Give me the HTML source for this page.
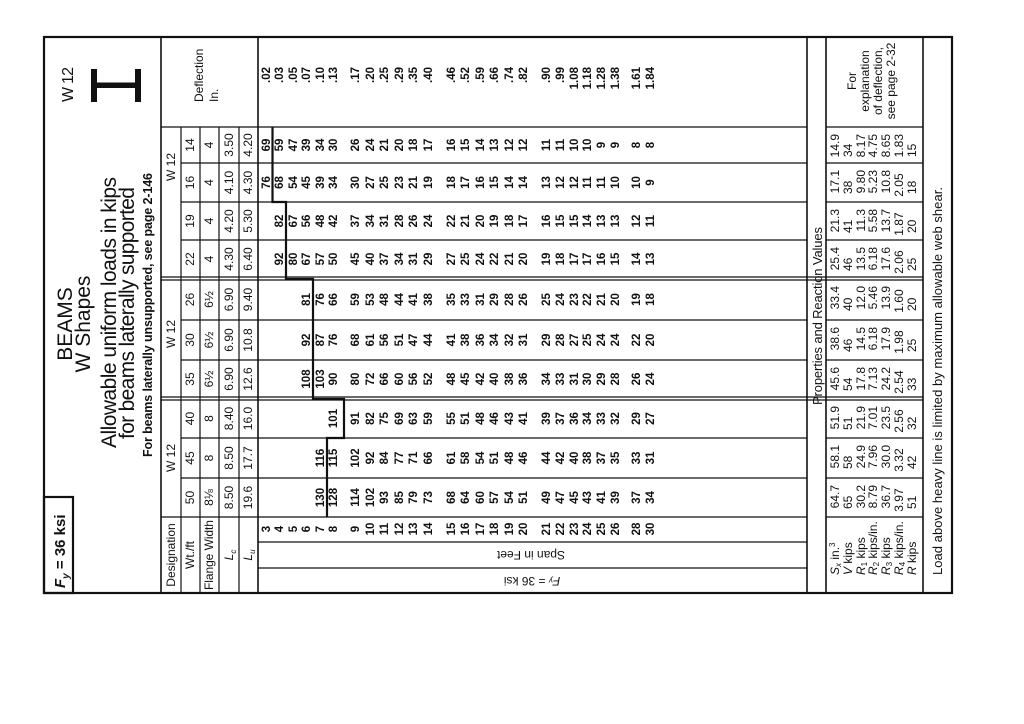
<!DOCTYPE html>
<html><head><meta charset="utf-8"><style>
html,body{margin:0;padding:0;background:#fff;width:1024px;height:724px;overflow:hidden}
svg{display:block}
text{font-family:"Liberation Sans",Arial,sans-serif;fill:#111}
.n{font-size:11.5px;font-weight:bold;text-anchor:middle}
.h{font-size:12px;text-anchor:middle}
.p{font-size:12px;text-anchor:end}
.pl{font-size:12px;text-anchor:start}
</style></head><body>
<svg width="1024" height="724" viewBox="0 0 1024 724" xmlns="http://www.w3.org/2000/svg">
<rect width="1024" height="724" fill="#fff"/>
<g transform="translate(0,724) rotate(-90)">
<rect x="131" y="44" width="556" height="908" fill="none" stroke="#111" stroke-width="2.2"/>
<rect x="131" y="44" width="96" height="29" fill="none" stroke="#111" stroke-width="2.2"/>
<text x="136" y="65" style="font-size:15px;font-weight:bold"><tspan font-style="italic">F</tspan><tspan font-size="10" dy="4" font-style="italic">y</tspan><tspan dy="-4"> = 36 ksi</tspan></text>
<text x="622" y="73" style="font-size:16px" textLength="35">W 12</text>
<rect x="622" y="91" width="33" height="6" fill="#111"/>
<rect x="622" y="135" width="33" height="6" fill="#111"/>
<rect x="636" y="91" width="5.5" height="50" fill="#111"/>
<text x="400" y="72" style="font-size:21px;text-anchor:middle">BEAMS</text>
<text x="400" y="90" style="font-size:21px;text-anchor:middle">W Shapes</text>
<text x="276" y="116" style="font-size:21px" textLength="271">Allowable uniform loads in kips</text>
<text x="285" y="134" style="font-size:21px" textLength="252">for beams laterally supported</text>
<text x="267" y="152" style="font-size:12.5px;font-weight:bold" textLength="284">For beams laterally unsupported, see page 2-146</text>

<g stroke="#111" stroke-width="1.2" fill="none">
<line x1="131" y1="161" x2="687" y2="161" stroke-width="1.6"/>
<line x1="131" y1="181" x2="597" y2="181"/>
<line x1="131" y1="200" x2="597" y2="200"/>
<line x1="131" y1="219" x2="597" y2="219"/>
<line x1="131" y1="239" x2="597" y2="239"/>
<line x1="131" y1="258" x2="687" y2="258" stroke-width="1.6"/>
<line x1="131" y1="807" x2="687" y2="807" stroke-width="1.6"/>
<line x1="131" y1="826" x2="687" y2="826" stroke-width="1.6"/>
<line x1="131" y1="923" x2="687" y2="923" stroke-width="1.6"/>
<line x1="207" y1="161" x2="207" y2="807"/>
<line x1="207" y1="826" x2="207" y2="923"/>
<line x1="597" y1="161" x2="597" y2="807"/>
<line x1="597" y1="826" x2="597" y2="923"/>
<line x1="324" y1="161" x2="324" y2="923"/>
<line x1="327" y1="161" x2="327" y2="923"/>
<line x1="444" y1="161" x2="444" y2="923"/>
<line x1="447" y1="161" x2="447" y2="923"/>
<line x1="156" y1="258" x2="156" y2="807"/>
<line x1="182" y1="258" x2="182" y2="807"/>
<line x1="246" y1="181" x2="246" y2="807"/><line x1="246" y1="826" x2="246" y2="923"/>
<line x1="286" y1="181" x2="286" y2="807"/><line x1="286" y1="826" x2="286" y2="923"/>
<line x1="364" y1="181" x2="364" y2="807"/><line x1="364" y1="826" x2="364" y2="923"/>
<line x1="404" y1="181" x2="404" y2="807"/><line x1="404" y1="826" x2="404" y2="923"/>
<line x1="484" y1="181" x2="484" y2="807"/><line x1="484" y1="826" x2="484" y2="923"/>
<line x1="522" y1="181" x2="522" y2="807"/><line x1="522" y1="826" x2="522" y2="923"/>
<line x1="561" y1="181" x2="561" y2="807"/><line x1="561" y1="826" x2="561" y2="923"/>
</g>
<g stroke="#111" stroke-width="2.2" fill="none">
<polyline points="207,327 286,327 286,344 325,344 325,313 445,313 445,286 522,286 522,272.5 597,272.5"/>
</g>

<text class="h" x="169" y="175">Designation</text>
<text class="h" x="169" y="194">Wt./ft</text>
<text class="h" x="169" y="213" textLength="70">Flange Width</text>
<text class="h" x="169" y="233" font-style="italic">L<tspan font-size="8" dy="3">c</tspan></text>
<text class="h" x="169" y="252" font-style="italic">L<tspan font-size="8" dy="3">u</tspan></text>
<text class="h" x="266" y="175">W 12</text>
<text class="h" x="390" y="175">W 12</text>
<text class="h" x="557" y="175">W 12</text>
<text class="h" y="194"><tspan x="226.5">50</tspan><tspan x="266">45</tspan><tspan x="305.5">40</tspan><tspan x="345">35</tspan><tspan x="384">30</tspan><tspan x="424.5">26</tspan><tspan x="465">22</tspan><tspan x="503">19</tspan><tspan x="541.5">16</tspan><tspan x="579">14</tspan></text>
<text class="h" y="213"><tspan x="226.5">8⅛</tspan><tspan x="266">8</tspan><tspan x="305.5">8</tspan><tspan x="345">6½</tspan><tspan x="384">6½</tspan><tspan x="424.5">6½</tspan><tspan x="465">4</tspan><tspan x="503">4</tspan><tspan x="541.5">4</tspan><tspan x="579">4</tspan></text>
<text class="h" y="233"><tspan x="226.5">8.50</tspan><tspan x="266">8.50</tspan><tspan x="305.5">8.40</tspan><tspan x="345">6.90</tspan><tspan x="384">6.90</tspan><tspan x="424.5">6.90</tspan><tspan x="465">4.30</tspan><tspan x="503">4.20</tspan><tspan x="541.5">4.10</tspan><tspan x="579">3.50</tspan></text>
<text class="h" y="252"><tspan x="226.5">19.6</tspan><tspan x="266">17.7</tspan><tspan x="305.5">16.0</tspan><tspan x="345">12.6</tspan><tspan x="384">10.8</tspan><tspan x="424.5">9.40</tspan><tspan x="465">6.40</tspan><tspan x="503">5.30</tspan><tspan x="541.5">4.30</tspan><tspan x="579">4.20</tspan></text>
<text x="622" y="203" style="font-size:12px">Deflection</text>
<text x="622" y="218" style="font-size:12px">In.</text>

<text class="n"><tspan x="195" y="270">3</tspan><tspan x="195" y="283">4</tspan><tspan x="195" y="297">5</tspan><tspan x="195" y="310">6</tspan><tspan x="195" y="324">7</tspan><tspan x="195" y="337">8</tspan><tspan x="195" y="359">9</tspan><tspan x="195" y="374">10</tspan><tspan x="195" y="388">11</tspan><tspan x="195" y="403">12</tspan><tspan x="195" y="417">13</tspan><tspan x="195" y="432">14</tspan><tspan x="195" y="455">15</tspan><tspan x="195" y="469">16</tspan><tspan x="195" y="484">17</tspan><tspan x="195" y="498">18</tspan><tspan x="195" y="513">19</tspan><tspan x="195" y="527">20</tspan><tspan x="195" y="550">21</tspan><tspan x="195" y="564">22</tspan><tspan x="195" y="578">23</tspan><tspan x="195" y="591">24</tspan><tspan x="195" y="605">25</tspan><tspan x="195" y="619">26</tspan><tspan x="195" y="640">28</tspan><tspan x="195" y="654">30</tspan></text>
<text x="169" y="531" style="font-size:12px;text-anchor:middle" dominant-baseline="central" transform="rotate(-90 169 531)">Span in Feet</text>
<text x="143" y="532" style="font-size:12px;text-anchor:middle" dominant-baseline="central" transform="rotate(-90 143 532)"><tspan font-style="italic">F</tspan><tspan font-size="8" font-style="italic">y</tspan> = 36 ksi</text>

<text class="n"><tspan x="226.5" y="324">130</tspan><tspan x="226.5" y="337">128</tspan><tspan x="226.5" y="359">114</tspan><tspan x="226.5" y="374">102</tspan><tspan x="226.5" y="388">93</tspan><tspan x="226.5" y="403">85</tspan><tspan x="226.5" y="417">79</tspan><tspan x="226.5" y="432">73</tspan><tspan x="226.5" y="455">68</tspan><tspan x="226.5" y="469">64</tspan><tspan x="226.5" y="484">60</tspan><tspan x="226.5" y="498">57</tspan><tspan x="226.5" y="513">54</tspan><tspan x="226.5" y="527">51</tspan><tspan x="226.5" y="550">49</tspan><tspan x="226.5" y="564">47</tspan><tspan x="226.5" y="578">45</tspan><tspan x="226.5" y="591">43</tspan><tspan x="226.5" y="605">41</tspan><tspan x="226.5" y="619">39</tspan><tspan x="226.5" y="640">37</tspan><tspan x="226.5" y="654">34</tspan></text>
<text class="n"><tspan x="266" y="324">116</tspan><tspan x="266" y="337">115</tspan><tspan x="266" y="359">102</tspan><tspan x="266" y="374">92</tspan><tspan x="266" y="388">84</tspan><tspan x="266" y="403">77</tspan><tspan x="266" y="417">71</tspan><tspan x="266" y="432">66</tspan><tspan x="266" y="455">61</tspan><tspan x="266" y="469">58</tspan><tspan x="266" y="484">54</tspan><tspan x="266" y="498">51</tspan><tspan x="266" y="513">48</tspan><tspan x="266" y="527">46</tspan><tspan x="266" y="550">44</tspan><tspan x="266" y="564">42</tspan><tspan x="266" y="578">40</tspan><tspan x="266" y="591">38</tspan><tspan x="266" y="605">37</tspan><tspan x="266" y="619">35</tspan><tspan x="266" y="640">33</tspan><tspan x="266" y="654">31</tspan></text>
<text class="n"><tspan x="305.5" y="337">101</tspan><tspan x="305.5" y="359">91</tspan><tspan x="305.5" y="374">82</tspan><tspan x="305.5" y="388">75</tspan><tspan x="305.5" y="403">69</tspan><tspan x="305.5" y="417">63</tspan><tspan x="305.5" y="432">59</tspan><tspan x="305.5" y="455">55</tspan><tspan x="305.5" y="469">51</tspan><tspan x="305.5" y="484">48</tspan><tspan x="305.5" y="498">46</tspan><tspan x="305.5" y="513">43</tspan><tspan x="305.5" y="527">41</tspan><tspan x="305.5" y="550">39</tspan><tspan x="305.5" y="564">37</tspan><tspan x="305.5" y="578">36</tspan><tspan x="305.5" y="591">34</tspan><tspan x="305.5" y="605">33</tspan><tspan x="305.5" y="619">32</tspan><tspan x="305.5" y="640">29</tspan><tspan x="305.5" y="654">27</tspan></text>
<text class="n"><tspan x="345" y="310">108</tspan><tspan x="345" y="324">103</tspan><tspan x="345" y="337">90</tspan><tspan x="345" y="359">80</tspan><tspan x="345" y="374">72</tspan><tspan x="345" y="388">66</tspan><tspan x="345" y="403">60</tspan><tspan x="345" y="417">56</tspan><tspan x="345" y="432">52</tspan><tspan x="345" y="455">48</tspan><tspan x="345" y="469">45</tspan><tspan x="345" y="484">42</tspan><tspan x="345" y="498">40</tspan><tspan x="345" y="513">38</tspan><tspan x="345" y="527">36</tspan><tspan x="345" y="550">34</tspan><tspan x="345" y="564">33</tspan><tspan x="345" y="578">31</tspan><tspan x="345" y="591">30</tspan><tspan x="345" y="605">29</tspan><tspan x="345" y="619">28</tspan><tspan x="345" y="640">26</tspan><tspan x="345" y="654">24</tspan></text>
<text class="n"><tspan x="384" y="310">92</tspan><tspan x="384" y="324">87</tspan><tspan x="384" y="337">76</tspan><tspan x="384" y="359">68</tspan><tspan x="384" y="374">61</tspan><tspan x="384" y="388">56</tspan><tspan x="384" y="403">51</tspan><tspan x="384" y="417">47</tspan><tspan x="384" y="432">44</tspan><tspan x="384" y="455">41</tspan><tspan x="384" y="469">38</tspan><tspan x="384" y="484">36</tspan><tspan x="384" y="498">34</tspan><tspan x="384" y="513">32</tspan><tspan x="384" y="527">31</tspan><tspan x="384" y="550">29</tspan><tspan x="384" y="564">28</tspan><tspan x="384" y="578">27</tspan><tspan x="384" y="591">25</tspan><tspan x="384" y="605">24</tspan><tspan x="384" y="619">24</tspan><tspan x="384" y="640">22</tspan><tspan x="384" y="654">20</tspan></text>
<text class="n"><tspan x="424.5" y="310">81</tspan><tspan x="424.5" y="324">76</tspan><tspan x="424.5" y="337">66</tspan><tspan x="424.5" y="359">59</tspan><tspan x="424.5" y="374">53</tspan><tspan x="424.5" y="388">48</tspan><tspan x="424.5" y="403">44</tspan><tspan x="424.5" y="417">41</tspan><tspan x="424.5" y="432">38</tspan><tspan x="424.5" y="455">35</tspan><tspan x="424.5" y="469">33</tspan><tspan x="424.5" y="484">31</tspan><tspan x="424.5" y="498">29</tspan><tspan x="424.5" y="513">28</tspan><tspan x="424.5" y="527">26</tspan><tspan x="424.5" y="550">25</tspan><tspan x="424.5" y="564">24</tspan><tspan x="424.5" y="578">23</tspan><tspan x="424.5" y="591">22</tspan><tspan x="424.5" y="605">21</tspan><tspan x="424.5" y="619">20</tspan><tspan x="424.5" y="640">19</tspan><tspan x="424.5" y="654">18</tspan></text>
<text class="n"><tspan x="465" y="283">92</tspan><tspan x="465" y="297">80</tspan><tspan x="465" y="310">67</tspan><tspan x="465" y="324">57</tspan><tspan x="465" y="337">50</tspan><tspan x="465" y="359">45</tspan><tspan x="465" y="374">40</tspan><tspan x="465" y="388">37</tspan><tspan x="465" y="403">34</tspan><tspan x="465" y="417">31</tspan><tspan x="465" y="432">29</tspan><tspan x="465" y="455">27</tspan><tspan x="465" y="469">25</tspan><tspan x="465" y="484">24</tspan><tspan x="465" y="498">22</tspan><tspan x="465" y="513">21</tspan><tspan x="465" y="527">20</tspan><tspan x="465" y="550">19</tspan><tspan x="465" y="564">18</tspan><tspan x="465" y="578">17</tspan><tspan x="465" y="591">17</tspan><tspan x="465" y="605">16</tspan><tspan x="465" y="619">15</tspan><tspan x="465" y="640">14</tspan><tspan x="465" y="654">13</tspan></text>
<text class="n"><tspan x="503" y="283">82</tspan><tspan x="503" y="297">67</tspan><tspan x="503" y="310">56</tspan><tspan x="503" y="324">48</tspan><tspan x="503" y="337">42</tspan><tspan x="503" y="359">37</tspan><tspan x="503" y="374">34</tspan><tspan x="503" y="388">31</tspan><tspan x="503" y="403">28</tspan><tspan x="503" y="417">26</tspan><tspan x="503" y="432">24</tspan><tspan x="503" y="455">22</tspan><tspan x="503" y="469">21</tspan><tspan x="503" y="484">20</tspan><tspan x="503" y="498">19</tspan><tspan x="503" y="513">18</tspan><tspan x="503" y="527">17</tspan><tspan x="503" y="550">16</tspan><tspan x="503" y="564">15</tspan><tspan x="503" y="578">15</tspan><tspan x="503" y="591">14</tspan><tspan x="503" y="605">13</tspan><tspan x="503" y="619">13</tspan><tspan x="503" y="640">12</tspan><tspan x="503" y="654">11</tspan></text>
<text class="n"><tspan x="541.5" y="270">76</tspan><tspan x="541.5" y="283">68</tspan><tspan x="541.5" y="297">54</tspan><tspan x="541.5" y="310">45</tspan><tspan x="541.5" y="324">39</tspan><tspan x="541.5" y="337">34</tspan><tspan x="541.5" y="359">30</tspan><tspan x="541.5" y="374">27</tspan><tspan x="541.5" y="388">25</tspan><tspan x="541.5" y="403">23</tspan><tspan x="541.5" y="417">21</tspan><tspan x="541.5" y="432">19</tspan><tspan x="541.5" y="455">18</tspan><tspan x="541.5" y="469">17</tspan><tspan x="541.5" y="484">16</tspan><tspan x="541.5" y="498">15</tspan><tspan x="541.5" y="513">14</tspan><tspan x="541.5" y="527">14</tspan><tspan x="541.5" y="550">13</tspan><tspan x="541.5" y="564">12</tspan><tspan x="541.5" y="578">12</tspan><tspan x="541.5" y="591">11</tspan><tspan x="541.5" y="605">11</tspan><tspan x="541.5" y="619">10</tspan><tspan x="541.5" y="640">10</tspan><tspan x="541.5" y="654">9</tspan></text>
<text class="n"><tspan x="579" y="270">69</tspan><tspan x="579" y="283">59</tspan><tspan x="579" y="297">47</tspan><tspan x="579" y="310">39</tspan><tspan x="579" y="324">34</tspan><tspan x="579" y="337">30</tspan><tspan x="579" y="359">26</tspan><tspan x="579" y="374">24</tspan><tspan x="579" y="388">21</tspan><tspan x="579" y="403">20</tspan><tspan x="579" y="417">18</tspan><tspan x="579" y="432">17</tspan><tspan x="579" y="455">16</tspan><tspan x="579" y="469">15</tspan><tspan x="579" y="484">14</tspan><tspan x="579" y="498">13</tspan><tspan x="579" y="513">12</tspan><tspan x="579" y="527">12</tspan><tspan x="579" y="550">11</tspan><tspan x="579" y="564">11</tspan><tspan x="579" y="578">10</tspan><tspan x="579" y="591">10</tspan><tspan x="579" y="605">9</tspan><tspan x="579" y="619">9</tspan><tspan x="579" y="640">8</tspan><tspan x="579" y="654">8</tspan></text>
<text style="font-size:11.5px;font-weight:bold;text-anchor:end"><tspan x="657" y="270">.02</tspan><tspan x="657" y="283">.03</tspan><tspan x="657" y="297">.05</tspan><tspan x="657" y="310">.07</tspan><tspan x="657" y="324">.10</tspan><tspan x="657" y="337">.13</tspan><tspan x="657" y="359">.17</tspan><tspan x="657" y="374">.20</tspan><tspan x="657" y="388">.25</tspan><tspan x="657" y="403">.29</tspan><tspan x="657" y="417">.35</tspan><tspan x="657" y="432">.40</tspan><tspan x="657" y="455">.46</tspan><tspan x="657" y="469">.52</tspan><tspan x="657" y="484">.59</tspan><tspan x="657" y="498">.66</tspan><tspan x="657" y="513">.74</tspan><tspan x="657" y="527">.82</tspan><tspan x="657" y="550">.90</tspan><tspan x="657" y="564">.99</tspan><tspan x="657" y="578">1.08</tspan><tspan x="657" y="591">1.18</tspan><tspan x="657" y="605">1.28</tspan><tspan x="657" y="619">1.38</tspan><tspan x="657" y="640">1.61</tspan><tspan x="657" y="654">1.84</tspan></text>

<text x="319" y="822" style="font-size:13px" textLength="178">Properties and Reaction Values</text>
<text style="font-size:12px"><tspan x="149" y="839" font-style="italic">S<tspan font-size="8" dy="2">x</tspan></tspan><tspan dy="-2"> in.</tspan><tspan font-size="8" dy="-4">3</tspan><tspan x="149" y="852" font-style="italic">V</tspan><tspan> kips</tspan><tspan x="149" y="865" font-style="italic">R</tspan><tspan font-size="8" dy="2">1</tspan><tspan dy="-2"> kips</tspan><tspan x="149" y="877" font-style="italic">R</tspan><tspan font-size="8" dy="2">2</tspan><tspan dy="-2"> kips/in.</tspan><tspan x="149" y="890" font-style="italic">R</tspan><tspan font-size="8" dy="2">3</tspan><tspan dy="-2"> kips</tspan><tspan x="149" y="903" font-style="italic">R</tspan><tspan font-size="8" dy="2">4</tspan><tspan dy="-2"> kips/in.</tspan><tspan x="149" y="916" font-style="italic">R</tspan><tspan> kips</tspan></text>
<text class="p"><tspan x="239" y="839">64.7</tspan><tspan x="239" y="865">30.2</tspan><tspan x="239" y="877">8.79</tspan><tspan x="239" y="890">36.7</tspan><tspan x="239" y="903">3.97</tspan>
<tspan x="279" y="839">58.1</tspan><tspan x="279" y="865">24.9</tspan><tspan x="279" y="877">7.96</tspan><tspan x="279" y="890">30.0</tspan><tspan x="279" y="903">3.32</tspan>
<tspan x="318" y="839">51.9</tspan><tspan x="318" y="865">21.9</tspan><tspan x="318" y="877">7.01</tspan><tspan x="318" y="890">23.5</tspan><tspan x="318" y="903">2.56</tspan>
<tspan x="357" y="839">45.6</tspan><tspan x="357" y="865">17.8</tspan><tspan x="357" y="877">7.13</tspan><tspan x="357" y="890">24.2</tspan><tspan x="357" y="903">2.54</tspan>
<tspan x="397" y="839">38.6</tspan><tspan x="397" y="865">14.5</tspan><tspan x="397" y="877">6.18</tspan><tspan x="397" y="890">17.9</tspan><tspan x="397" y="903">1.98</tspan>
<tspan x="438" y="839">33.4</tspan><tspan x="438" y="865">12.0</tspan><tspan x="438" y="877">5.46</tspan><tspan x="438" y="890">13.9</tspan><tspan x="438" y="903">1.60</tspan>
<tspan x="477" y="839">25.4</tspan><tspan x="477" y="865">13.5</tspan><tspan x="477" y="877">6.18</tspan><tspan x="477" y="890">17.6</tspan><tspan x="477" y="903">2.06</tspan>
<tspan x="515" y="839">21.3</tspan><tspan x="515" y="865">11.3</tspan><tspan x="515" y="877">5.58</tspan><tspan x="515" y="890">13.7</tspan><tspan x="515" y="903">1.87</tspan>
<tspan x="554" y="839">17.1</tspan><tspan x="554" y="865">9.80</tspan><tspan x="554" y="877">5.23</tspan><tspan x="554" y="890">10.8</tspan><tspan x="554" y="903">2.05</tspan>
<tspan x="590" y="839">14.9</tspan><tspan x="590" y="865">8.17</tspan><tspan x="590" y="877">4.75</tspan><tspan x="590" y="890">8.65</tspan><tspan x="590" y="903">1.83</tspan></text>
<text class="pl"><tspan x="215" y="852">65</tspan><tspan x="215" y="916">51</tspan><tspan x="255" y="852">58</tspan><tspan x="255" y="916">42</tspan><tspan x="294" y="852">51</tspan><tspan x="294" y="916">32</tspan><tspan x="333" y="852">54</tspan><tspan x="333" y="916">33</tspan><tspan x="372" y="852">46</tspan><tspan x="372" y="916">25</tspan><tspan x="413" y="852">40</tspan><tspan x="413" y="916">20</tspan><tspan x="453" y="852">46</tspan><tspan x="453" y="916">25</tspan><tspan x="491" y="852">41</tspan><tspan x="491" y="916">20</tspan><tspan x="530" y="852">38</tspan><tspan x="530" y="916">18</tspan><tspan x="567" y="852">34</tspan><tspan x="567" y="916">15</tspan></text>
<text style="font-size:12px;text-anchor:middle"><tspan x="643" y="856">For</tspan><tspan x="643" y="869">explanation</tspan><tspan x="643" y="882">of deflection,</tspan><tspan x="643" y="895">see page 2-32</tspan></text>
<text x="149" y="942" style="font-size:13px" textLength="388">Load above heavy line is limited by maximum allowable web shear.</text>
</g>
</svg>
</body></html>
